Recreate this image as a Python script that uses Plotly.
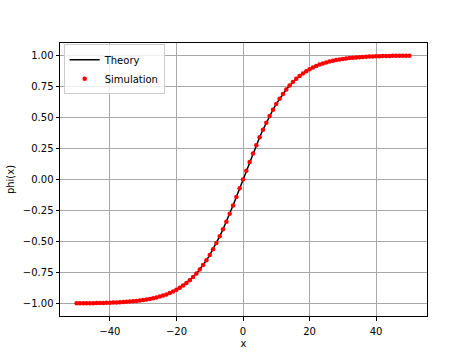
import plotly.graph_objects as go

x_vals = list(range(-50, 51))

pos_half = [0.000, 0.071, 0.141, 0.209, 0.276, 0.340, 0.401, 0.458, 0.512, 0.562,
            0.609, 0.651, 0.690, 0.725, 0.757, 0.786, 0.811, 0.834, 0.855, 0.872,
            0.888, 0.902, 0.915, 0.926, 0.935, 0.943, 0.951, 0.957, 0.963, 0.968,
            0.972, 0.975, 0.979, 0.981, 0.984, 0.986, 0.988, 0.989, 0.991, 0.992,
            0.993, 0.994, 0.995, 0.995, 0.996, 0.997, 0.997, 0.997, 0.998, 0.998,
            0.998]
neg_half = [-0.998, -0.998, -0.998, -0.997, -0.997, -0.997, -0.996, -0.995, -0.995, -0.994,
            -0.993, -0.992, -0.991, -0.989, -0.988, -0.986, -0.984, -0.981, -0.979, -0.975,
            -0.972, -0.968, -0.963, -0.957, -0.951, -0.943, -0.935, -0.926, -0.915, -0.902,
            -0.888, -0.872, -0.855, -0.834, -0.811, -0.786, -0.757, -0.725, -0.690, -0.651,
            -0.609, -0.562, -0.512, -0.458, -0.401, -0.340, -0.276, -0.209, -0.141, -0.071]

theory_y = neg_half + pos_half
sim_y = neg_half + pos_half

x_ticks = [-40, -20, 0, 20, 40]
y_ticks = [-1.0, -0.75, -0.5, -0.25, 0.0, 0.25, 0.5, 0.75, 1.0]

fig = go.Figure()
fig.add_trace(go.Scatter(x=x_vals, y=theory_y, mode="lines", name="Theory",
                         line=dict(color="black", width=1.5)))
fig.add_trace(go.Scatter(x=x_vals, y=sim_y, mode="markers", name="Simulation",
                         marker=dict(color="red", size=4.5, line=dict(width=0))))

axis_common = dict(showline=True, linecolor="black", linewidth=1, mirror=True,
                   ticks="outside", ticklen=3.5, tickcolor="black", tickwidth=1,
                   showgrid=True, gridcolor="#a8a8a8", gridwidth=1, zeroline=False,
                   automargin=False,
                   tickfont=dict(family="DejaVu Sans", size=10, color="black"))

fig.update_xaxes(range=[-55, 55.3], tickvals=x_ticks, ticklabelstandoff=2,
                 title=dict(text="x", font=dict(family="DejaVu Sans", size=10, color="black"),
                            standoff=4),
                 **axis_common)
fig.update_yaxes(range=[-1.1, 1.1], tickvals=y_ticks, tickformat=".2f",
                 title=dict(text="phi(x)", font=dict(family="DejaVu Sans", size=10, color="black"),
                            standoff=6),
                 **axis_common)

fig.update_layout(
    width=474, height=355,
    margin=dict(l=60, r=47, t=43, b=39),
    paper_bgcolor="white", plot_bgcolor="white",
    font=dict(family="DejaVu Sans", size=10, color="black"),
    showlegend=True,
    legend=dict(x=0.01, y=0.995, xanchor="left", yanchor="top",
                bgcolor="rgba(255,255,255,0.8)", bordercolor="#cccccc", borderwidth=1,
                font=dict(family="DejaVu Sans", size=10, color="black"),
                tracegroupgap=0, itemwidth=30),
)

fig.write_html("out.html")
